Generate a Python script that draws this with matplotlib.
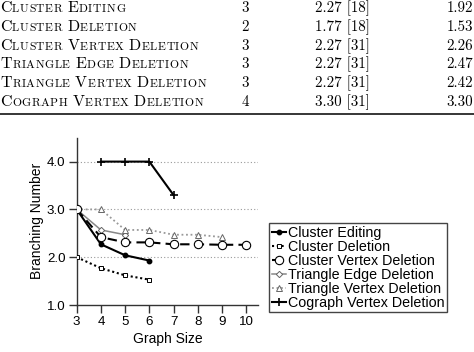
import numpy as np
import matplotlib
matplotlib.use("Agg")
import matplotlib.pyplot as plt

# table rows
problems = ["Cluster Editing", "Cluster Deletion", "Cluster Vertex Deletion",
            "Triangle Edge Deletion", "Triangle Vertex Deletion", "Cograph Vertex Deletion"]
col_size = ["3", "2", "3", "3", "3", "4"]
col_prev = ["2.27 [18]", "1.77 [18]", "2.27 [31]", "2.27 [31]", "2.27 [31]", "3.30 [31]"]
col_new = ["1.92", "1.53", "2.26", "2.47", "2.42", "3.30"]

# chart data
x_ce = [3, 4, 5, 6]
y_ce = [3.0, 2.27, 2.04, 1.93]
x_cd = [3, 4, 5, 6]
y_cd = [2.0, 1.77, 1.62, 1.53]
x_cvd = [3, 4, 5, 6, 7, 8, 9, 10]
y_cvd = [3.0, 2.42, 2.31, 2.31, 2.27, 2.27, 2.26, 2.26]
x_ted = [3, 4, 5]
y_ted = [3.0, 2.57, 2.47]
x_tvd = [3, 4, 5, 6, 7, 8, 9]
y_tvd = [3.0, 3.0, 2.57, 2.57, 2.47, 2.47, 2.42]
x_cog = [4, 5, 6, 7]
y_cog = [4.0, 4.0, 4.0, 3.30]

W, H = 474, 352
fig = plt.figure(figsize=(W / 100, H / 100), dpi=100)

# ---- table on top (small caps faked with two sizes + letter spacing) ----
big, small = 11.5, 8.4
track = 0.42
num_size = 10.8
serif = "cmr10"
row_y = [6.7, 25.7, 44.3, 63.0, 81.8, 100.6]

def yfig(py):
    return 1 - py / H

def smallcaps(name, x0, base_px):
    prev = None
    for wi, word in enumerate(name.split(" ")):
        pieces = [(word[0], big)] + [(c, small) for c in word[1:].upper()]
        for ci, (txt, sz) in enumerate(pieces):
            if prev is None:
                prev = fig.text(x0 / W, yfig(base_px), txt, fontsize=sz, family=serif,
                                va="baseline", ha="left")
                continue
            gap = 3.7 if ci == 0 else track
            prev = fig.add_artist(matplotlib.text.Annotation(
                txt, xy=(1, H - base_px), xycoords=(prev, "figure pixels"),
                xytext=(gap, 0), textcoords="offset points",
                fontsize=sz, family=serif, va="baseline", ha="left"))

for i, name in enumerate(problems):
    base = row_y[i] + 5.4
    smallcaps(name, 0, base)
    fig.text(245 / W, yfig(base), col_size[i], fontsize=num_size, family=serif, va="baseline", ha="center")
    fig.text(342.5 / W, yfig(base), col_prev[i], fontsize=num_size, family=serif, va="baseline", ha="center")
    fig.text(473 / W, yfig(base), col_new[i], fontsize=num_size, family=serif, va="baseline", ha="right")

fig.add_artist(plt.Line2D([0, 1], [yfig(114.3), yfig(114.3)], color="black", lw=1.1))

# ---- chart ----
sans = "Liberation Sans"
ax = fig.add_axes([76.7 / W, (H - 305) / H, 181.6 / W, 167.3 / H])
ax.set_xlim(3, 10.5)
ax.set_ylim(1.0, 4.5)

for g in [2, 3, 4]:
    ax.axhline(g, color="#999999", lw=0.8, ls=(0, (1, 2)), zorder=0)

ax.plot(x_ce, y_ce, color="black", lw=1.5, marker="o", ms=3.2, mfc="black", mec="black",
        label="Cluster Editing", zorder=3)
ax.plot(x_cd, y_cd, color="black", lw=1.5, ls=(0, (1, 1.3)), marker="s", ms=3.2,
        mfc="white", mec="black", mew=0.7, label="Cluster Deletion", zorder=3)
ax.plot(x_cvd, y_cvd, color="black", lw=1.5, ls=(0, (4.5, 2.5)), marker="o", ms=6,
        mfc="white", mec="black", mew=0.8, label="Cluster Vertex Deletion", zorder=4)
ax.plot(x_ted, y_ted, color="#888888", lw=1.1, marker="D", ms=3.2, mfc="white",
        mec="#666666", mew=0.7, label="Triangle Edge Deletion", zorder=3)
ax.plot(x_tvd, y_tvd, color="#999999", lw=1.3, ls=(0, (1, 1.5)), marker="^", ms=3.8,
        mfc="white", mec="#666666", mew=0.7, label="Triangle Vertex Deletion", zorder=3)
ax.plot(x_cog, y_cog, color="black", lw=1.5, marker="+", ms=5.5, mew=1.2,
        label="Cograph Vertex Deletion", zorder=3)

ax.spines["top"].set_visible(False)
ax.spines["right"].set_visible(False)
for s in ["left", "bottom"]:
    ax.spines[s].set_linewidth(1.0)
    ax.spines[s].set_color("#333333")
ax.set_xticks(range(3, 11))
ax.set_yticks([1.0, 2.0, 3.0, 4.0])
ax.set_yticklabels(["1.0", "2.0", "3.0", "4.0"])
ax.tick_params(length=6, width=1.0, color="#333333", labelsize=9.6, pad=2)
for lab in ax.get_xticklabels() + ax.get_yticklabels():
    lab.set_family(sans)
ax.set_xlabel("Graph Size", fontsize=10, family=sans, labelpad=3)
ax.set_ylabel("Branching Number", fontsize=10, family=sans, labelpad=2)

leg = fig.legend(loc="upper left", bbox_to_anchor=(269 / W, 1 - 222.7 / H),
                 prop={"family": sans, "size": 10.3}, frameon=True, fancybox=False,
                 edgecolor="#444444", framealpha=1, borderpad=0.2, labelspacing=0.0,
                 handlelength=1.0, handletextpad=0.1, borderaxespad=0)
leg.get_frame().set_linewidth(1.0)

fig.savefig("out.png", dpi=100)
